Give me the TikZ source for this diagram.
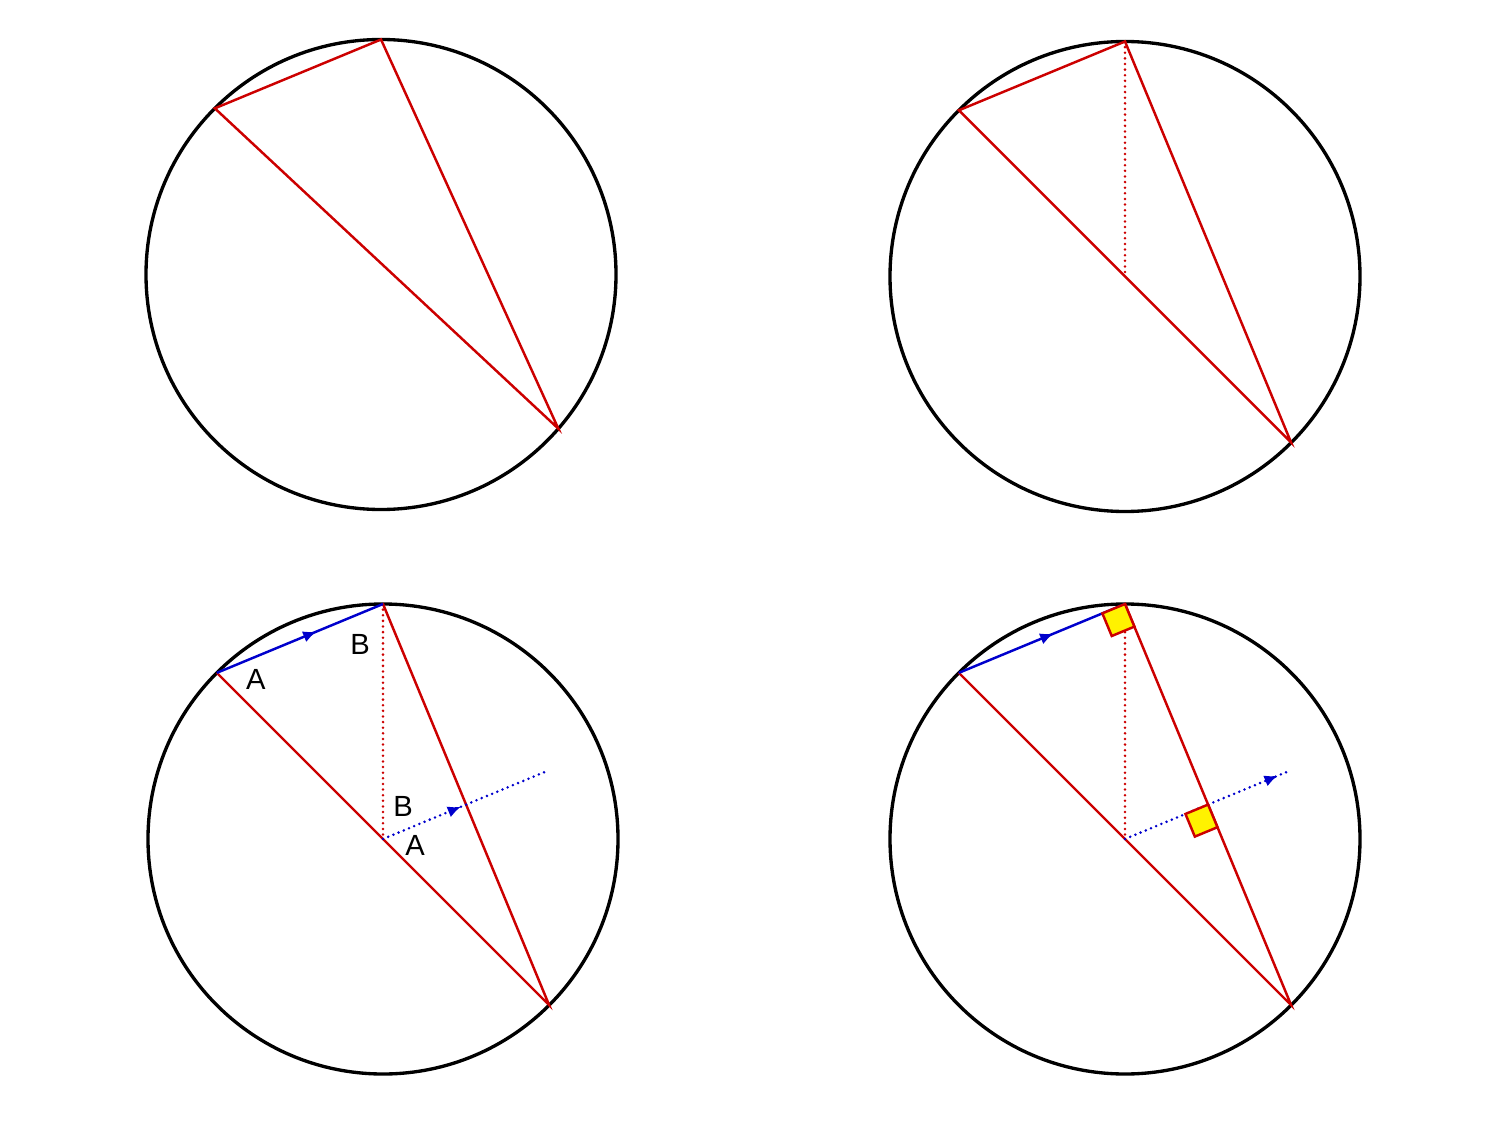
\documentclass[tikz,border=0pt]{standalone}
\usepackage{fontspec}
\setmainfont{Liberation Sans}
\usetikzlibrary{calc,arrows.meta,decorations.markings}
\definecolor{cred}{RGB}{204,0,0}
\definecolor{cblue}{RGB}{0,0,204}
\tikzset{
	rim/.style={black, line width=0.95pt},
	chord/.style={cred, line width=0.7pt},
	drop/.style={cred, line width=0.8pt, line cap=round, dash pattern=on 0pt off 1.6pt},
	vec/.style={cblue, line width=0.7pt, postaction={decorate}, decoration={markings,
		mark=at position #1 with {\arrow{Latex[length=3.8pt,width=3.3pt]}}}},
	dvec/.style={vec=#1, line width=0.8pt, line cap=round, dash pattern=on 0pt off 1.6pt},
	rightsq/.style={draw=cred, fill=yellow, line width=0.7pt},
	lbl/.style={font=\fontsize{8.3}{10}\selectfont}
}
\begin{document}
\begin{tikzpicture}

		\useasboundingbox (0,0) rectangle (15.01,11.25);

		%% top left %%
		\begin{scope}[shift={(3.81,8.505)}]
			\coordinate (O1) at (0,0);
			\coordinate (T1) at (90:2.35);
			\coordinate (L1) at (135:2.35);
			\coordinate (R1) at (-41:2.35);
			\draw[rim] (O1) circle (2.35);
			\draw[chord] (L1) -- (T1) -- (R1) -- cycle;
		\end{scope}

		%% top right %%
		\begin{scope}[shift={(11.25,8.485)}]
			\coordinate (O2) at (0,0);
			\coordinate (T2) at (90:2.35);
			\coordinate (L2) at (135:2.35);
			\coordinate (R2) at (-45:2.35);
			\draw[rim] (O2) circle (2.35);
			\draw[drop] (T2) -- (O2); % dotted radius
			\draw[chord] (L2) -- (T2) -- (R2) -- cycle;
		\end{scope}

		%% bottom left %%
		\begin{scope}[shift={(3.83,2.86)}]
			\coordinate (O3) at (0,0);
			\coordinate (T3) at (90:2.35);
			\coordinate (L3) at (135:2.35);
			\coordinate (R3) at (-45:2.35);
			\coordinate (E3) at ($(O3)+(T3)-(L3)$);
			\draw[rim] (O3) circle (2.35);
			\draw[drop] (T3) -- (O3);
			\draw[chord] (T3) -- (R3) -- (L3);
			\draw[vec=0.6] (L3) -- (T3);
			\draw[dvec=0.47] (O3) -- (E3);
			% angle labels
			\node[lbl] (a1) at ($(L3)+(0.39,-0.07)$) {A};
			\node[lbl] (b1) at ($(T3)+(-0.23,-0.40)$) {B};
			\node[lbl] (b2) at ($(O3)+(0.20,0.33)$) {B};
			\node[lbl] (a2) at ($(O3)+(0.32,-0.06)$) {A};
		\end{scope}

		%% bottom right %%
		\begin{scope}[shift={(11.25,2.86)}]
			\coordinate (O4) at (0,0);
			\coordinate (T4) at (90:2.35);
			\coordinate (L4) at (135:2.35);
			\coordinate (R4) at (-45:2.35);
			\coordinate (E4) at ($(O4)+(T4)-(L4)$);
			\coordinate (M4) at ($(T4)!0.5!(R4)$);
			\draw[rim] (O4) circle (2.35);
			\draw[drop] (T4) -- (O4);
			\draw[chord] (T4) -- (R4) -- (L4);
			\draw[vec=0.57] (L4) -- (T4);
			\draw[dvec=0.92] (O4) -- (E4);
			% right angles
			\coordinate (p1) at ($(T4)!0.245cm!(L4)$);
			\coordinate (p2) at ($(T4)!0.245cm!(R4)$);
			\draw[rightsq] (T4) -- (p1) -- ($(p1)+(p2)-(T4)$) -- (p2) -- cycle;
			\coordinate (q1) at ($(M4)!0.245cm!(O4)$);
			\coordinate (q2) at ($(M4)!0.245cm!(R4)$);
			\draw[rightsq] (M4) -- (q1) -- ($(q1)+(q2)-(M4)$) -- (q2) -- cycle;
		\end{scope}

	\end{tikzpicture}
\end{document}
